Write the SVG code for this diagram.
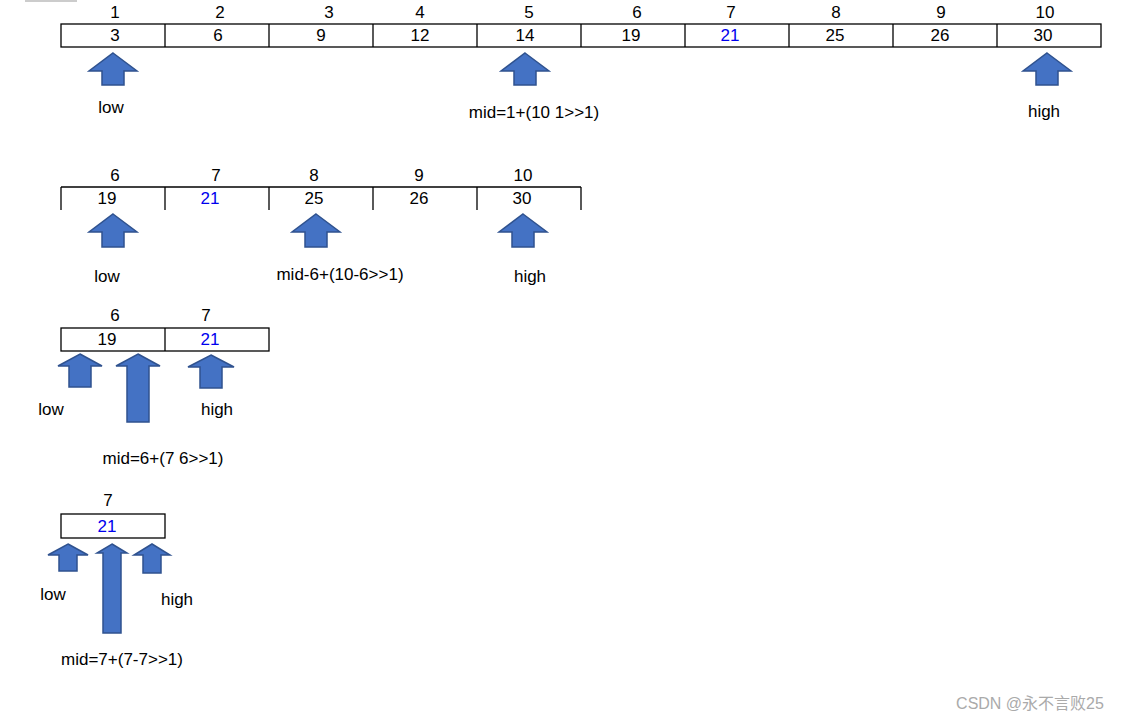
<svg xmlns="http://www.w3.org/2000/svg" width="1133" height="721" viewBox="0 0 1133 721">
<style>
text{font-family:"Liberation Sans",Arial,sans-serif;font-size:17px;fill:#000;text-anchor:middle}
.b{fill:#0000ee}
.c{fill:#fff;stroke:#000;stroke-width:1.3}
.l{stroke:#000;stroke-width:1.3}
.a{fill:#4472c4;stroke:#2f528f;stroke-width:1.5}
.w{fill:#aaa;font-size:16px;font-family:"Liberation Sans","Noto Sans CJK SC",sans-serif}
</style>
<rect x="25" y="0" width="52" height="2" fill="#ccc"/>
<g id="row1">
<rect class="c" x="61" y="24" width="1040" height="23"/>
<g class="l"><line x1="165" y1="24" x2="165" y2="47"/><line x1="269" y1="24" x2="269" y2="47"/><line x1="373" y1="24" x2="373" y2="47"/><line x1="477" y1="24" x2="477" y2="47"/><line x1="581" y1="24" x2="581" y2="47"/><line x1="685" y1="24" x2="685" y2="47"/><line x1="789" y1="24" x2="789" y2="47"/><line x1="893" y1="24" x2="893" y2="47"/><line x1="997" y1="24" x2="997" y2="47"/></g>
<text x="115" y="18">1</text><text x="220" y="18">2</text><text x="329" y="18">3</text><text x="420" y="18">4</text><text x="529" y="18">5</text><text x="637" y="18">6</text><text x="731" y="18">7</text><text x="836" y="18">8</text><text x="941" y="18">9</text><text x="1045" y="18">10</text>
<text x="115" y="41">3</text><text x="218" y="41">6</text><text x="321" y="41">9</text><text x="420" y="41">12</text><text x="525" y="41">14</text><text x="631" y="41">19</text><text class="b" x="730" y="41">21</text><text x="835" y="41">25</text><text x="940" y="41">26</text><text x="1043" y="41">30</text>
</g>
<g id="row2">
<g class="l"><line x1="61" y1="187" x2="581" y2="187"/><line x1="61" y1="187" x2="61" y2="210"/><line x1="165" y1="187" x2="165" y2="210"/><line x1="269" y1="187" x2="269" y2="210"/><line x1="373" y1="187" x2="373" y2="210"/><line x1="477" y1="187" x2="477" y2="210"/><line x1="581" y1="187" x2="581" y2="210"/></g>
<text x="115" y="181">6</text><text x="216" y="181">7</text><text x="314" y="181">8</text><text x="419" y="181">9</text><text x="523" y="181">10</text>
<text x="107" y="204">19</text><text class="b" x="210" y="204">21</text><text x="314" y="204">25</text><text x="419" y="204">26</text><text x="522" y="204">30</text>
</g>
<g id="row3">
<rect class="c" x="61" y="328" width="208" height="23"/>
<line class="l" x1="165" y1="328" x2="165" y2="351"/>
<text x="115" y="321">6</text><text x="206" y="321">7</text>
<text x="107" y="345">19</text><text class="b" x="210" y="345">21</text>
</g>
<g id="row4">
<rect class="c" x="61" y="514" width="104" height="24"/>
<text x="108" y="506">7</text>
<text class="b" x="107" y="532">21</text>
</g>
<g id="arrows">
<path class="a" d="M113,53 L137,71 L124,71 L124,85 L102,85 L102,71 L89,71 Z"/>
<path class="a" d="M525,53 L549,71 L536,71 L536,85 L514,85 L514,71 L501,71 Z"/>
<path class="a" d="M1047,53 L1071,71 L1058,71 L1058,85 L1036,85 L1036,71 L1023,71 Z"/>
<path class="a" d="M113,214 L137,232 L124,232 L124,247 L102,247 L102,232 L89,232 Z"/>
<path class="a" d="M316,214 L340,232 L327,232 L327,247 L305,247 L305,232 L292,232 Z"/>
<path class="a" d="M523,214 L547,232 L534,232 L534,247 L512,247 L512,232 L499,232 Z"/>
<path class="a" d="M80,354 L102,366 L91,366 L91,387 L69,387 L69,366 L58,366 Z"/>
<path class="a" d="M138,354 L160,366 L149,366 L149,422 L127,422 L127,366 L116,366 Z"/>
<path class="a" d="M211,355 L234,367 L222,367 L222,388 L200,388 L200,367 L188,367 Z"/>
<path class="a" d="M68,544 L88,555 L77,555 L77,571 L59,571 L59,555 L48,555 Z"/>
<path class="a" d="M112,544 L127,553 L121,553 L121,633 L103,633 L103,553 L97,553 Z"/>
<path class="a" d="M152,544 L170,555 L161,555 L161,573 L143,573 L143,555 L134,555 Z"/>
</g>
<g id="labels">
<text x="111" y="113">low</text><text x="534" y="118">mid=1+(10 1&gt;&gt;1)</text><text x="1044" y="117">high</text>
<text x="107" y="282">low</text><text x="340" y="280">mid-6+(10-6&gt;&gt;1)</text><text x="530" y="282">high</text>
<text x="51" y="415">low</text><text x="217" y="415">high</text><text x="163" y="464">mid=6+(7 6&gt;&gt;1)</text>
<text x="53" y="600">low</text><text x="177" y="605">high</text><text x="122" y="665">mid=7+(7-7&gt;&gt;1)</text>
</g>
<text class="w" x="1030" y="709">CSDN @永不言败25</text>
</svg>
